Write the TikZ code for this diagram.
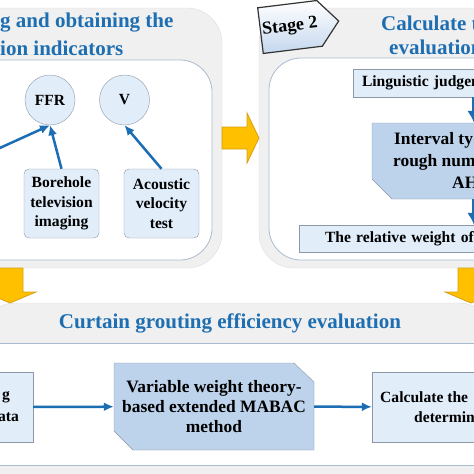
\documentclass[tikz,border=0pt]{standalone}
\usepackage{fontspec}
\setmainfont{Liberation Serif}
\usetikzlibrary{shapes.symbols,arrows.meta}
\definecolor{ttlblue}{RGB}{30,110,178}
\definecolor{arrblue}{RGB}{27,109,180}
\definecolor{ltfill}{RGB}{226,237,250}
\definecolor{dkfill}{RGB}{189,210,235}
\definecolor{boxline}{RGB}{140,152,168}
\definecolor{panelgray}{RGB}{240,240,240}
\definecolor{panelline}{RGB}{170,188,208}
\definecolor{yel}{RGB}{255,192,0}
\definecolor{yelline}{RGB}{214,160,20}
\tikzstyle{panelout}=[fill=panelgray, draw=panelgray!92!black, line width=0.4pt, rounded corners=35pt]
\tikzstyle{panelin}=[fill=white, draw=panelline, line width=0.8pt, rounded corners=32pt]
\tikzstyle{ttl}=[inner sep=0pt, text=ttlblue, font=\fontsize{21}{25}\selectfont\bfseries]
\tikzstyle{ind}=[circle, draw=boxline, fill=ltfill, minimum size=50pt, inner sep=0pt, font=\fontsize{15.5}{19}\selectfont\bfseries]
\tikzstyle{srcbox}=[draw=boxline, fill=ltfill, rounded corners=5pt, minimum width=75pt, minimum height=69pt, align=center, inner sep=0pt, font=\fontsize{15.6}{19.5}\selectfont\bfseries]
\tikzstyle{ltbox}=[draw=boxline, fill=ltfill, inner sep=0pt, font=\fontsize{15.6}{19.5}\selectfont\bfseries]
\tikzstyle{dkshape}=[draw=boxline, fill=dkfill]
\tikzstyle{txt}=[inner sep=0pt, font=\fontsize{15.6}{19.5}\selectfont\bfseries]
\tikzstyle{bigtxt}=[inner sep=0pt, font=\fontsize{17.4}{20}\selectfont\bfseries]
\tikzstyle{link}=[draw=arrblue, line width=2.5pt, -{Latex[length=10pt,width=9pt]}]
\tikzstyle{thicklink}=[draw=arrblue, line width=4pt, -{Latex[length=12pt,width=14pt]}]
\tikzstyle{yelarrow}=[fill=yel, draw=yelline, line width=0.8pt, line join=miter]
\begin{document}
\begin{tikzpicture}[x=1pt,y=-1pt]
  \useasboundingbox (0,0) rectangle (474,474);
  \clip (0,0) rectangle (474,474);
  % panels
  \draw[panelout] (-40,8) rectangle (222,268);
  \draw[panelin] (-30,60) rectangle (212,260);
  \draw[panelout] (259,8) rectangle (520,268);
  \draw[panelin] (269,58) rectangle (510,260);
  \draw[panelout] (-20,303) rectangle (494,520);
  \draw[panelin, rounded corners=0pt] (-10,343) rectangle (484,465);
  \node[ttl, anchor=west] at (0,23) {g and obtaining the};
  \node[ttl, anchor=west] at (0,48) {ion indicators};
  \node[ttl, anchor=west] at (381,23) {Calculate t};
  \node[ttl, anchor=west] at (389,47) {evaluation};
  \node[ttl] at (230,323) {Curtain grouting efficiency evaluation};
  % stage 1
  \node[ind] (ffr) at (50,100) {FFR};
  \node[ind] (vel) at (124.5,100) {V};
  \node[srcbox] (bore) at (61.5,203.5) {Borehole\\television\\imaging};
  \node[srcbox] (acou) at (161.5,203.5) {Acoustic\\velocity\\test};
  \coordinate (lft) at (-20,157);
  \draw[link] (lft) -- (ffr.south);
  \draw[link] (bore.north) -- (ffr.south);
  \draw[link] (acou.north) -- (vel.south);
  % stage 2
  \node[signal, signal to=east, signal pointer angle=100, draw=black!80, line width=1.2pt,
    top color=white, bottom color=dkfill!80!ltfill, minimum width=76pt, minimum height=46pt,
    rotate=7, inner sep=2pt, font=\fontsize{18}{20}\selectfont\bfseries] (stg) at (290,27) {Stage 2};
  \node[ltbox, minimum width=242pt, minimum height=28pt, text width=224pt, align=left] (ling) at (474,83) {Linguistic judgem};
  \filldraw[dkshape] (372,123) -- (580,123) -- (580,199) -- (392,199) -- (372,179) -- cycle;
  \node[minimum width=204pt, minimum height=76pt, inner sep=0pt] (intv) at (474,161) {};
  \node[bigtxt, anchor=west] at (394,140) {Interval ty};
  \node[bigtxt, anchor=west] at (393,162) {rough num};
  \node[bigtxt, anchor=west] at (452,183) {AH};
  \node[ltbox, minimum width=350pt, minimum height=27pt, text width=298pt, align=left] (relw) at (474,238.5) {The relative weight of};
  \draw[thicklink] (ling) -- (intv);
  \draw[thicklink] (intv) -- (relw);
  % flow between stages
  \filldraw[yelarrow] (222,127) -- (247,127) -- (247,113) -- (259,138) -- (247,163) -- (247,149) -- (222,149) -- cycle;
  \foreach \cx in {10,471}
    \filldraw[yelarrow] (\cx-13,268) -- (\cx+13,268) -- (\cx+13,292) -- (\cx+26,292) -- (\cx,303) -- (\cx-26,292) -- (\cx-13,292) -- cycle;
  % stage 3
  \node[ltbox, minimum width=93pt, minimum height=70pt] (grd) at (-13.5,407) {};
  \node[txt, anchor=east] at (10,397) {g};
  \node[txt, anchor=east] at (19,417) {ata};
  \filldraw[dkshape] (114,363) -- (294,363) -- (314,382) -- (314,450) -- (133,450) -- (114,431) -- cycle;
  \node[bigtxt, minimum width=200pt, minimum height=87pt, align=center] (vwm) at (214,406.5) {Variable weight theory-\\based extended MABAC\\method};
  \node[ltbox, minimum width=204pt, minimum height=70pt] (calc) at (474,407) {};
  \node[txt, anchor=west] at (380,397) {Calculate the};
  \node[txt, anchor=west] at (414,417) {determin};
  \draw[link] (grd) -- (vwm);
  \draw[link] (vwm) -- (calc);
\end{tikzpicture}
\end{document}
